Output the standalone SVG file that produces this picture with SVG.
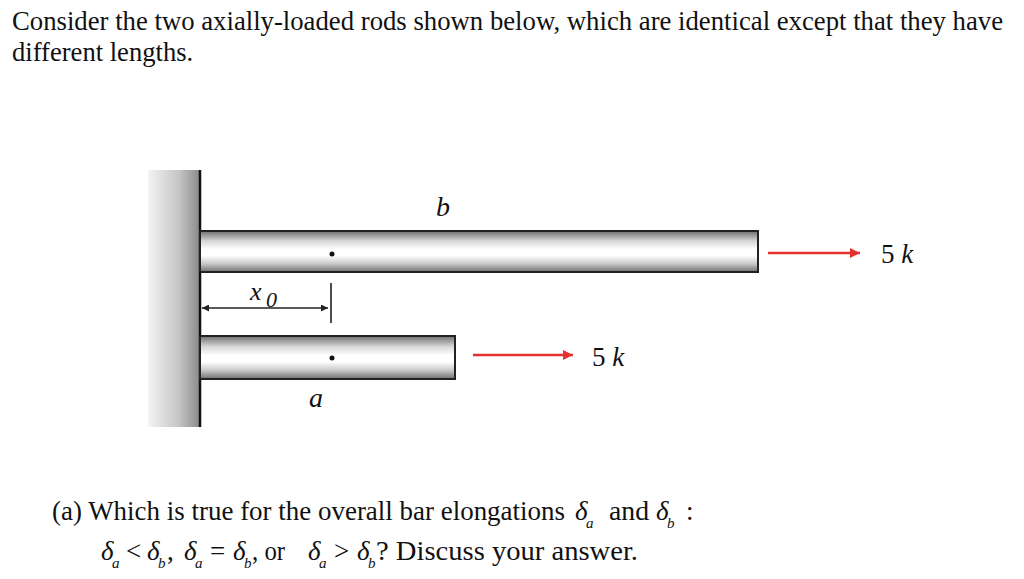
<svg xmlns="http://www.w3.org/2000/svg" width="1024" height="579" viewBox="0 0 1024 579">
<defs>
<linearGradient id="wall" x1="0" x2="1" y1="0" y2="0"><stop offset="0" stop-color="#f4f4f4"/><stop offset="0.6" stop-color="#c4c4c4"/><stop offset="1" stop-color="#8a8a8a"/></linearGradient>
<linearGradient id="rod" x1="0" x2="0" y1="0" y2="1"><stop offset="0" stop-color="#6e6e6e"/><stop offset="0.25" stop-color="#d8d8d8"/><stop offset="0.45" stop-color="#ffffff"/><stop offset="0.6" stop-color="#ffffff"/><stop offset="0.8" stop-color="#c8c8c8"/><stop offset="1" stop-color="#6e6e6e"/></linearGradient>
<marker id="ar" viewBox="0 0 10 10" refX="10" refY="5" markerWidth="11" markerHeight="10" markerUnits="userSpaceOnUse" orient="auto"><path d="M0,0L10,5L0,10z" fill="#e53030"/></marker>
<marker id="ak" viewBox="0 0 10 10" refX="10" refY="5" markerWidth="11" markerHeight="7" markerUnits="userSpaceOnUse" orient="auto-start-reverse"><path d="M0,0L10,5L0,10z" fill="#222"/></marker>
<style>
text{font-family:"Liberation Serif","Times New Roman",serif;fill:#111}
.t{font-size:26.6px}
.q{font-size:27px}
.i{font-style:italic}
.red{stroke:#e53030;stroke-width:2.5;fill:none}
.rod{fill:url(#rod);stroke:#222;stroke-width:2}
</style>
</defs>
<text class="t" x="12" y="30" textLength="991" lengthAdjust="spacingAndGlyphs">Consider the two axially-loaded rods shown below, which are identical except that they have</text>
<text class="t" x="12" y="61">different lengths.</text>
<g id="wall"><rect x="148" y="170" width="52" height="257" fill="url(#wall)"/><line x1="200" y1="170" x2="200" y2="427" stroke="#111" stroke-width="2.5"/></g>
<g id="rod-b"><rect class="rod" x="200" y="231" width="558" height="41"/><circle cx="332" cy="254" r="2.5" fill="#111"/><text class="i" x="436" y="216" font-size="28">b</text></g>
<g id="rod-a"><rect class="rod" x="200" y="336" width="255" height="43"/><circle cx="332" cy="358" r="2.5" fill="#111"/><text class="i" x="309" y="407" font-size="28">a</text></g>
<g id="dim"><line x1="331" y1="283" x2="331" y2="323" stroke="#111" stroke-width="1.5"/><text class="i" x="250" y="300" font-size="26">x</text><text class="i" x="266" y="307" font-size="22">0</text></g>
<g id="connectors">
<line x1="202" y1="308" x2="328" y2="308" stroke="#222" stroke-width="1.3" marker-start="url(#ak)" marker-end="url(#ak)"/>
<line class="red" x1="768" y1="253" x2="860" y2="253" marker-end="url(#ar)"/>
<line class="red" x1="473" y1="355" x2="573" y2="355" marker-end="url(#ar)"/>
</g>
<g id="load-b"><text x="881" y="263" font-size="27">5 <tspan class="i">k</tspan></text></g>
<g id="load-a"><text x="592" y="366" font-size="27">5 <tspan class="i">k</tspan></text></g>
<text class="q" x="52" y="520" textLength="513" lengthAdjust="spacingAndGlyphs">(a) Which is true for the overall bar elongations</text>
<text class="q i" x="575" y="520">δ</text><text class="i" x="586" y="528" font-size="15">a</text>
<text class="q" x="609" y="520" textLength="40" lengthAdjust="spacingAndGlyphs">and</text>
<text class="q i" x="656" y="520">δ</text><text class="i" x="667" y="528" font-size="15">b</text>
<text class="q" x="686" y="520">:</text>
<text class="q i" x="101" y="560">δ</text><text class="i" x="112" y="568" font-size="15">a</text>
<text class="q" x="126" y="560">&lt;</text>
<text class="q i" x="147" y="560">δ</text><text class="i" x="158" y="568" font-size="15">b</text>
<text class="q" x="167" y="560">,</text>
<text class="q i" x="184" y="560">δ</text><text class="i" x="195" y="568" font-size="15">a</text>
<text class="q" x="210" y="560">=</text>
<text class="q i" x="233" y="560">δ</text><text class="i" x="244" y="568" font-size="15">b</text>
<text class="q" x="252" y="560" textLength="33" lengthAdjust="spacingAndGlyphs">, or</text>
<text class="q i" x="308" y="560">δ</text><text class="i" x="319" y="568" font-size="15">a</text>
<text class="q" x="334" y="560">&gt;</text>
<text class="q i" x="357" y="560">δ</text><text class="i" x="368" y="568" font-size="15">b</text>
<text class="q" x="376" y="560" textLength="262" lengthAdjust="spacingAndGlyphs">? Discuss your answer.</text>
</svg>
